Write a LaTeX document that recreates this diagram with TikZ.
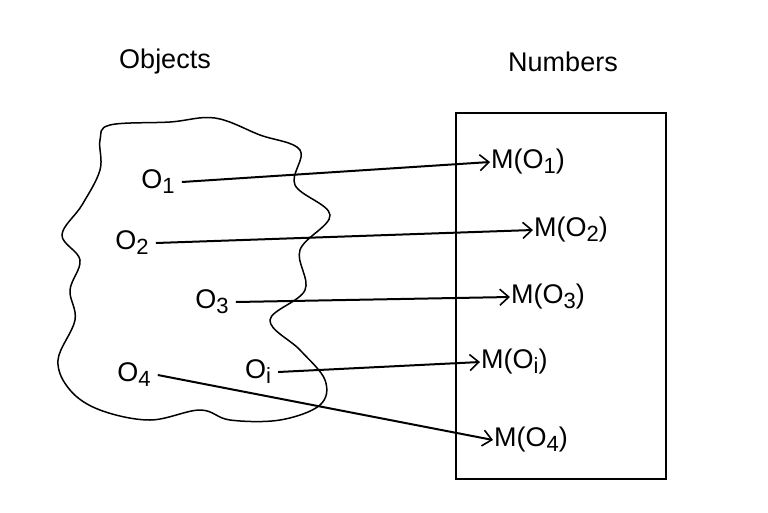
\documentclass[tikz,border=0pt]{standalone}
\usepackage{fontspec}
\setmainfont{Liberation Sans}
\usetikzlibrary{arrows.meta}
\newcommand{\sbx}[1]{\raisebox{-0.35ex}{\fontsize{22}{24}\selectfont #1}}
\begin{document}
\begin{tikzpicture}[x=1pt,y=-1pt,
  lbl/.style={font=\fontsize{27}{30}\selectfont, inner sep=1pt},
  conn/.style={line width=2pt,-{Straight Barb[length=9pt,width=16pt,line width=1.6pt]}}]
\useasboundingbox (0,0) rectangle (768,512);
\node[lbl] (ho) at (165,62) {Objects};
\node[lbl] (hn) at (563,62) {Numbers};
\node[draw,line width=2pt,minimum width=210pt,minimum height=366pt,anchor=north west] (box) at (455,112) {};
\draw[line width=1.5pt] plot[smooth cycle,tension=0.6] coordinates{
 (110,125) (170,122) (215,118) (260,135) (300,150) (295,185) (330,215) (300,250) (305,290)
 (270,320) (300,350) (325,380) (320,405) (280,420) (230,420) (200,410) (150,420) (100,410)
 (70,390) (58,360) (75,320) (70,290) (80,260) (62,235) (82,205) (100,170) (100,140)};
\node[lbl] (o1) at (158,182) {O\sbx{1}};
\node[lbl] (o2) at (132,243) {O\sbx{2}};
\node[lbl] (o3) at (212,302) {O\sbx{3}};
\node[lbl] (o4) at (134,375) {O\sbx{4}};
\node[lbl] (oi) at (258,372) {O\sbx{i}};
\node[lbl,anchor=west] (m1) at (490,162) {M(O\sbx{1})};
\node[lbl,anchor=west] (m2) at (533,230) {M(O\sbx{2})};
\node[lbl,anchor=west] (m3) at (510,297) {M(O\sbx{3})};
\node[lbl,anchor=west] (mi) at (480,362) {M(O\sbx{i})};
\node[lbl,anchor=west] (m4) at (493,440) {M(O\sbx{4})};
\draw[conn] ([xshift=6pt]o1.east) -- (m1.west);
\draw[conn] ([xshift=6pt]o2.east) -- (m2.west);
\draw[conn] ([xshift=6pt]o3.east) -- (m3.west);
\draw[conn] ([xshift=6pt]oi.east) -- (mi.west);
\draw[conn] ([xshift=6pt]o4.east) -- (m4.west);
\end{tikzpicture}
\end{document}
